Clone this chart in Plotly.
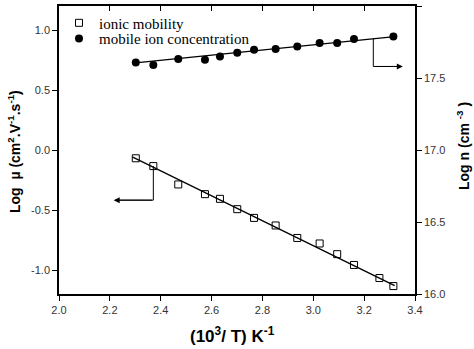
import plotly.graph_objects as go

# Data
x_mob = [2.302, 2.371, 2.469, 2.574, 2.633, 2.701, 2.767, 2.852, 2.937, 3.025, 3.094, 3.160, 3.260, 3.315]
log_mu = [-0.069, -0.134, -0.287, -0.368, -0.407, -0.493, -0.566, -0.629, -0.733, -0.779, -0.868, -0.958, -1.067, -1.134]

x_conc = [2.302, 2.371, 2.469, 2.574, 2.633, 2.701, 2.767, 2.852, 2.937, 3.025, 3.094, 3.160, 3.315]
log_n = [17.608, 17.590, 17.632, 17.627, 17.650, 17.676, 17.696, 17.701, 17.719, 17.743, 17.743, 17.771, 17.789]

fit_mu_x = [2.29, 3.32]
fit_mu_y = [-0.060, -1.130]
fit_n_x = [2.30, 3.32]
fit_n_y = [17.605, 17.788]

# arrow guides
arrL_x = [2.371, 2.371]
arrL_y = [-0.134, -0.418]
arrL_tip = [2.215, -0.418]
arrR_x = [3.236, 3.236]
arrR_y = [17.773, 17.580]
arrR_tip = [3.352, 17.580]

xticks = [2.0, 2.2, 2.4, 2.6, 2.8, 3.0, 3.2, 3.4]
yticks_l = [-1.0, -0.5, 0.0, 0.5, 1.0]
yticks_r = [16.0, 16.5, 17.0, 17.5, 18.0]

fig = go.Figure()
fig.add_trace(go.Scatter(x=fit_mu_x, y=fit_mu_y, mode="lines", line=dict(color="black", width=1.3),
                         showlegend=False, hoverinfo="skip"))
fig.add_trace(go.Scatter(x=x_mob, y=log_mu, mode="markers", name="ionic mobility", legend="legend",
                         marker=dict(symbol="square-open", size=7, color="black", line=dict(width=1))))
fig.add_trace(go.Scatter(x=fit_n_x, y=fit_n_y, mode="lines", line=dict(color="black", width=1.3),
                         showlegend=False, hoverinfo="skip", yaxis="y2"))
fig.add_trace(go.Scatter(x=x_conc, y=log_n, mode="markers", name="mobile ion concentration",
                         legend="legend2",
                         marker=dict(symbol="circle", size=8, color="black"), yaxis="y2"))
# arrow guide lines
fig.add_trace(go.Scatter(x=arrL_x + [arrL_tip[0] + 0.02], y=arrL_y + [arrL_tip[1]], mode="lines",
                         line=dict(color="black", width=1), showlegend=False, hoverinfo="skip"))
fig.add_trace(go.Scatter(x=arrR_x + [arrR_tip[0] - 0.02], y=arrR_y + [arrR_tip[1]], mode="lines",
                         line=dict(color="black", width=1), showlegend=False, hoverinfo="skip", yaxis="y2"))
# dummy trace for top axis
fig.add_trace(go.Scatter(x=[2.0], y=[0], mode="markers", marker=dict(opacity=0), showlegend=False,
                         hoverinfo="skip", xaxis="x2"))

fig.add_annotation(x=arrL_tip[0], y=arrL_tip[1], ax=arrL_x[1], ay=arrL_y[1], xref="x", yref="y",
                   axref="x", ayref="y", text="", showarrow=True, arrowhead=2, arrowsize=1.2,
                   arrowwidth=1, arrowcolor="black")
fig.add_annotation(x=arrR_tip[0], y=arrR_tip[1], ax=arrR_x[1], ay=arrR_y[1], xref="x", yref="y2",
                   axref="x", ayref="y2", text="", showarrow=True, arrowhead=2, arrowsize=1.2,
                   arrowwidth=1, arrowcolor="black")

tickfont = dict(family="Liberation Sans, Arial", size=11, color="#333333")

fig.add_annotation(text="<b>Log  µ (cm<sup>2</sup>.V<sup>-1</sup>.s<sup>-1</sup>)</b>", textangle=-90,
                   xref="paper", yref="paper", x=(14 - 59) / 356, y=1 - (152 - 6) / 288,
                   showarrow=False, font=dict(family="Liberation Sans, Arial", size=14, color="black"),
                   xanchor="center", yanchor="middle")
fig.add_annotation(text="<b>Log n (cm <sup>-3</sup> )</b>", textangle=-90,
                   xref="paper", yref="paper", x=(463 - 59) / 356, y=1 - (146 - 6) / 288,
                   showarrow=False, font=dict(family="Liberation Sans, Arial", size=14, color="black"),
                   xanchor="center", yanchor="middle")
fig.add_annotation(text="<b>(10<sup>3</sup>/ T) K<sup>-1</sup></b>",
                   xref="paper", yref="paper", x=(232 - 59) / 356, y=1 - (335 - 6) / 288,
                   showarrow=False, font=dict(family="Liberation Sans, Arial", size=17, color="black"),
                   xanchor="center", yanchor="middle")

legfont = dict(family="Liberation Serif, Times New Roman", size=15, color="black")

fig.update_layout(
    width=474, height=349,
    margin=dict(l=59, r=59, t=6, b=55),
    paper_bgcolor="white", plot_bgcolor="white",
    xaxis=dict(range=[2.0, 3.4], tickvals=xticks, ticktext=[f"{v:.1f}" for v in xticks],
               ticks="outside", ticklen=5, tickwidth=1, tickcolor="black",
               showline=True, linecolor="black", linewidth=1.5, showgrid=False, zeroline=False,
               tickfont=tickfont),
    xaxis2=dict(range=[2.0, 3.4], overlaying="x", side="top", tickvals=xticks, showticklabels=False,
                ticks="inside", ticklen=5, tickwidth=1, tickcolor="black",
                showline=True, linecolor="black", linewidth=1.5, showgrid=False, zeroline=False),
    yaxis=dict(range=[-1.2, 1.2], tickvals=yticks_l, ticktext=[f"{v:.1f}" for v in yticks_l],
               ticks="outside", ticklen=5, tickwidth=1, tickcolor="black",
               showline=True, linecolor="black", linewidth=1.5, showgrid=False, zeroline=False,
               tickfont=tickfont),
    yaxis2=dict(range=[16.0, 18.0], overlaying="y", side="right", tickvals=yticks_r,
                ticktext=[f"{v:.1f}" for v in yticks_r],
                ticks="outside", ticklen=5, tickwidth=1, tickcolor="black",
                showline=True, linecolor="black", linewidth=1.5, showgrid=False, zeroline=False,
                tickfont=tickfont),
    legend=dict(x=0.0, y=0.998, xanchor="left", yanchor="top", bgcolor="rgba(0,0,0,0)",
                font=legfont, itemwidth=30),
    legend2=dict(x=0.0, y=0.944, xanchor="left", yanchor="top", bgcolor="rgba(0,0,0,0)",
                 font=legfont, itemwidth=30),
    showlegend=True,
)

fig.write_html("out.html")
